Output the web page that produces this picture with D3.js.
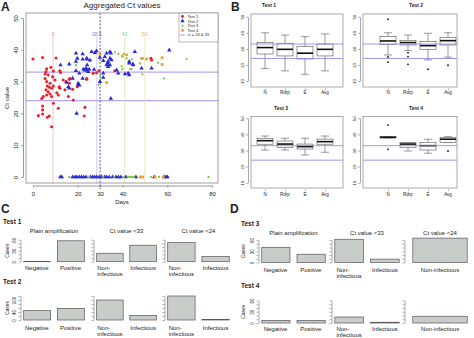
<!DOCTYPE html>
<html>
<head>
<meta charset="utf-8">
<script src="https://cdn.jsdelivr.net/npm/d3@7"></script>
<style>
  body { margin: 0; background: #fff; }
  svg { display: block; font-family: "Liberation Sans", Arial, sans-serif; }
</style>
</head>
<body>
<svg id="fig" width="474" height="338"></svg>
<script>
// ---------- data: panel A (day, Ct) ----------
var test1Pts = [[0,37.1],[4.3,37.6],[10.3,37.4],[8,34.5],[6.1,34],[5.8,33.1],[9.1,33.3],[12,33.4],[12.3,32.9],
  [5.4,32.4],[6.8,32.1],[5.4,31],[8.8,31.5],[9.8,30.5],[13.5,30.5],[16.5,31],[6.1,30],[7.6,29.5],[6.4,28.6],
  [7.3,28.2],[8.3,27.9],[9.1,28.6],[5.8,27.4],[6.8,26.8],[7.6,26.1],[6.1,25.8],[8.3,25.3],[4.6,25.3],[3.9,24.7],
  [10.6,26.5],[12,27.9],[14.3,27.4],[11.3,25.8],[15.8,25.3],[16.2,29.5],[18,24.2],[9.1,23.2],[11.3,21.6],
  [4.3,22.3],[4.3,21.1],[2.4,19.3],[4.3,19.8],[6.4,18.8],[7.3,19.2],[8.3,15.8],[23.2,21.9],[22.9,19.2],
  [24,30.7],[28.4,32.8],[29.5,33.4],[36.6,33.4],[52.7,37.3],[53,36.8],[19.8,28.4],[16.2,30.7],[14.7,30],
  [11.7,28.4],[17.7,27.6],[26.9,32.6],[24,31]];
var test2Pts = [[12.3,35.2],[16.2,35.5],[19.2,38.9],[19.8,37.3],[19.2,36.3],[22.2,38.7],[22.2,37],[24.2,37],
  [26.2,39.4],[27.7,39.1],[28.4,39.6],[24.2,35.2],[23.7,34.2],[24.2,33.6],[25.1,33.9],[22.5,33.9],[19.2,33.4],
  [17.7,31],[15.8,28.4],[15,29.7],[20.2,29.5],[20.2,29],[22.2,31],[19.5,20],[29.9,37.6],[31.4,36.6],[32.1,37.8],
  [32.9,38.9],[34.4,39.4],[34.8,38.9],[33.6,36.3],[33.3,35.8],[34.4,35.2],[29.9,30],[31.4,31.3],[34.8,24.7],
  [37.4,33.6],[38.1,32.6],[41.1,32.4],[43,32.1],[43,36.3],[43,35.8],[45.5,39.4],[44.6,35.5],[48.5,34.2],
  [53,34.2],[60.9,39.9],[27.3,33.8],[24,37.3],[25.5,36.7],[23.2,33.6],[24.7,33.1],[34.4,37.3],[35.1,36.8],
  [32.9,35.2],[33.6,34.7],[42.5,32.6],[31.4,32.6],[44.8,35.2],[20.7,32.6],[16.2,27.9],[20.7,28.9]];
var test3Pts = [[19.2,35.2],[36.6,39.2],[38.1,38.7],[40.6,38.7],[41.8,37.3],[44.3,37],[30.4,31],[30.2,32],
  [40,33.9],[44,33.9],[48.9,32.3],[49.2,37.3],[55.9,35.9],[58.6,31],[68.6,37.1],[39.6,34.9],[43.3,33.9],
  [47.8,35.7],[29.2,28.9]];
var test4Pts = [[29.9,38.7],[32.9,29.7],[39.9,38],[41.8,38.4],[48.5,37.3],[50.8,37.1],[57.7,37.5],[57.7,35.4]];
// negatives (Ct = 0) by day
var test2Zero = [12.2,12.9,17.7,18.75,19.6,20.7,21.6,22.6,23.7,25.6,26.6,27.5,28.4,29.6,30.7,32,32.9,34.1,
  35.6,37.1,38.2,39.3,41.5,46,54.2,58.6,59.4,60.1];
var test3Zero = [16.2,25.1,31.4,36.3,40.5,42.3,43,43.8,44.5,45.2,48.2,52.7,56.4,78.4];
var test4Zero = [47.9,49,54.6,58.2];
var medianDays = [9, 28.5, 41, 50];
var medianLabels = ["9", "28.5", "41", "50"];
var splitDay = 30;
var ctCutoffs = [24, 33];
var dayTicks = [0, 20, 30, 40, 60, 80];
var legendLabels = ["Test 1", "Test 2", "Test 3", "Test 4", "ct = 24 & 33"];

// ---------- data: panel B (lower whisker, Q1, median, Q3, upper whisker) ----------
var boxCats = ["N", "Rdrp", "E", "Avg"];
var box1 = [[17.7,26.8,30.8,33.9,40],[16.3,25.6,29.7,33.5,38.6],[14.2,23.7,27.3,31.4,37.6],[16.3,25.6,29.7,33,39.3]];
var box2 = [[26.2,32.8,34.9,37.6,40],[28.9,32.4,33.9,35.1,38.6],[23.1,29.7,32,34.5,39.7],[24.8,32.4,35.1,37.2,40]];
var box3 = [[30.3,33.9,36.1,37.6,39],[30.3,32,34,35.9,37.6],[27.2,30.9,32.4,34,37.6],[28.9,33.9,35.5,37.1,39]];
var box4 = [[37.8,37.8,38.2,38.6,38.6],[29.7,32,34,34.9,34.9],[28.3,30.3,33,35.1,37],[34.9,34.9,37,38.2,38.6]];
var out1 = [[], [], [], []];
var out2 = [[48.4,25,21.7],[27.6,25.2,20.4],[17.3],[19.8]];
var out3 = [[], [], [], []];
var out4 = [[45.8,30.7],[],[],[29.7]];
var boxTicks = [10, 20, 30, 40, 50];

// ---------- data: panels C, D (cases) ----------
var groupTitles = ["Plain amplification", "Ct value <33", "Ct value <24"];
var plainCats = ["Negative", "Positive"];
var ctCats = ["Non-\ninfectious", "Infectious"];
var test1Bars = [[1, 57], [23, 45], [52, 14]];
var test2Bars = [[47, 58], [100, 23], [120, 3]];
var test3Bars = [[40, 22], [62, 9], [65]];
var test4Bars = [[7, 7], [16, 2], [18]];

var svg = d3.select("#fig");
var ink = "#222";

function letter(t, x, y) {
  svg.append("text").attr("x", x).attr("y", y).attr("font-size", 12).attr("font-weight", "bold").attr("fill", ink).text(t);
}

// ================= Panel A =================
var frameA = { l: 26, r: 218, t: 13, b: 183 };
var xA = d3.scaleLinear().domain([0, 80]).range([33, 212]);
var yA = d3.scaleLinear().domain([0, 50]).range([177, 18]);
var gA = svg.append("g");

letter("A", 1, 11);
gA.append("text").attr("x", 122).attr("y", 8).attr("text-anchor", "middle").attr("font-size", 8).attr("fill", ink)
  .text("Aggregated Ct values");

ctCutoffs.forEach(function (c) {
  gA.append("line").attr("x1", frameA.l).attr("x2", frameA.r).attr("y1", yA(c)).attr("y2", yA(c))
    .attr("stroke", "#b9a3f2").attr("stroke-width", 1.2);
});

var medLine = ["#f4b6b6", "#c2c2f2", "#cfe8b0", "#f6dcae"];
var medText = ["#e88a8a", "#7d7de0", "#93cc5a", "#f0b060"];
medianDays.forEach(function (d, i) {
  gA.append("line").attr("x1", xA(d)).attr("x2", xA(d)).attr("y1", 37).attr("y2", frameA.b)
    .attr("stroke", medLine[i]).attr("stroke-width", 0.8);
  gA.append("text").attr("x", xA(d)).attr("y", 36).attr("text-anchor", "middle").attr("font-size", 5)
    .attr("fill", medText[i]).text(medianLabels[i]);
});
gA.append("line").attr("x1", xA(splitDay)).attr("x2", xA(splitDay)).attr("y1", frameA.t).attr("y2", 189)
  .attr("stroke", "#23306e").attr("stroke-width", 0.8).attr("stroke-dasharray", "2,1.5");

var sym = d3.symbol();
function dots(pts, type, size, color) {
  gA.selectAll(null).data(pts).enter().append("path")
    .attr("transform", function (d) { return "translate(" + xA(d[0]) + "," + yA(d[1]) + ")"; })
    .attr("d", sym.type(type).size(size)())
    .attr("fill", color);
}
function zeroPts(days) { return days.map(function (d) { return [d, 0]; }); }
dots(test1Pts, d3.symbolCircle, 7.5, "#e8232b");
dots(test2Pts.concat(zeroPts(test2Zero)), d3.symbolTriangle, 8.5, "#2a2ad6");
dots(test3Pts.concat(zeroPts(test3Zero)), d3.symbolCircle, 4, "#7ac943");
dots(test4Pts.concat(zeroPts(test4Zero)), d3.symbolSquare, 7.5, "#f0a030");

gA.append("rect").attr("x", frameA.l).attr("y", frameA.t).attr("width", frameA.r - frameA.l)
  .attr("height", frameA.b - frameA.t).attr("fill", "none").attr("stroke", "#888").attr("stroke-width", 0.8);

var axA = gA.append("g").attr("transform", "translate(0,185.5)")
  .call(d3.axisBottom(xA).tickValues(dayTicks).tickSize(2).tickSizeOuter(0));
axA.selectAll("text").attr("font-size", 6).attr("fill", ink).attr("dy", "0.9em");
var ayA = gA.append("g").attr("transform", "translate(23,0)")
  .call(d3.axisLeft(yA).tickValues([0, 10, 20, 30, 40, 50]).tickSize(2).tickSizeOuter(0));
ayA.selectAll("text").attr("font-size", 6).attr("fill", ink).attr("text-anchor", "middle")
  .attr("x", 0).attr("dy", 0).attr("transform", "translate(-5,0) rotate(-90)");
[axA, ayA].forEach(function (a) {
  a.selectAll("path,line").attr("stroke", "#555").attr("stroke-width", 0.6);
});
gA.append("text").attr("x", 122).attr("y", 204).attr("text-anchor", "middle").attr("font-size", 6).attr("fill", ink).text("Days");
gA.append("text").attr("transform", "translate(9,98) rotate(-90)").attr("text-anchor", "middle")
  .attr("font-size", 6).attr("fill", ink).text("Ct value");

// legend
var lg = gA.append("g");
lg.append("rect").attr("x", 179).attr("y", 13).attr("width", 39).attr("height", 29)
  .attr("fill", "#fff").attr("stroke", "#888").attr("stroke-width", 0.6);
var legSym = [[d3.symbolCircle, 7, "#e8232b"], [d3.symbolTriangle, 8, "#2a2ad6"],
  [d3.symbolCircle, 4, "#7ac943"], [d3.symbolSquare, 7, "#f0a030"]];
legendLabels.forEach(function (t, i) {
  var yy = 16.5 + i * 4.6;
  if (i < 4) {
    lg.append("path").attr("transform", "translate(182.5," + yy + ")")
      .attr("d", sym.type(legSym[i][0]).size(legSym[i][1])()).attr("fill", legSym[i][2]);
  } else {
    lg.append("line").attr("x1", 180.5).attr("x2", 185).attr("y1", yy).attr("y2", yy)
      .attr("stroke", "#9f86ee").attr("stroke-width", 0.9);
  }
  lg.append("text").attr("x", 187.5).attr("y", yy + 1.4).attr("font-size", 4).attr("fill", ink).text(t);
});

// ================= Panel B =================
letter("B", 231, 11);

function boxPanel(stats, outl, fr, yRange, xRange, title, titleX, titleY, labY) {
  var g = svg.append("g");
  var y = d3.scaleLinear().domain([10, 50]).range(yRange);
  var x = d3.scalePoint().domain(boxCats).range(xRange);
  var w = 16;
  g.append("text").attr("x", titleX).attr("y", titleY).attr("text-anchor", "middle").attr("font-size", 5)
    .attr("font-weight", "bold").attr("fill", ink).text(title);

  stats.forEach(function (s, i) {
    var cx = x(boxCats[i]);
    g.append("line").attr("x1", cx).attr("x2", cx).attr("y1", y(s[0])).attr("y2", y(s[1])).attr("stroke", "#555").attr("stroke-width", 0.6);
    g.append("line").attr("x1", cx).attr("x2", cx).attr("y1", y(s[3])).attr("y2", y(s[4])).attr("stroke", "#555").attr("stroke-width", 0.6);
    [s[0], s[4]].forEach(function (v) {
      g.append("line").attr("x1", cx - w / 4).attr("x2", cx + w / 4).attr("y1", y(v)).attr("y2", y(v))
        .attr("stroke", "#555").attr("stroke-width", 0.6);
    });
    g.append("rect").attr("x", cx - w / 2).attr("y", y(s[3])).attr("width", w)
      .attr("height", Math.max(0.6, y(s[1]) - y(s[3]))).attr("fill", "#fff").attr("stroke", "#555").attr("stroke-width", 0.6);
    g.append("line").attr("x1", cx - w / 2).attr("x2", cx + w / 2).attr("y1", y(s[2])).attr("y2", y(s[2]))
      .attr("stroke", "#111").attr("stroke-width", 1.6);
    g.selectAll(null).data(outl[i]).enter().append("circle")
      .attr("cx", cx).attr("cy", function (d) { return y(d); }).attr("r", 0.9).attr("fill", "#111");
  });

  ctCutoffs.forEach(function (c) {
    g.append("line").attr("x1", fr.l).attr("x2", fr.r).attr("y1", y(c)).attr("y2", y(c))
      .attr("stroke", "#8a7cf0").attr("stroke-width", 0.8);
  });
  g.append("rect").attr("x", fr.l).attr("y", fr.t).attr("width", fr.r - fr.l).attr("height", fr.b - fr.t)
    .attr("fill", "none").attr("stroke", "#888").attr("stroke-width", 0.7);

  var ay = g.append("g").attr("transform", "translate(" + (fr.l - 3) + ",0)")
    .call(d3.axisLeft(y).tickValues(boxTicks).tickSize(2).tickSizeOuter(0));
  ay.selectAll("text").attr("font-size", 4.3).attr("fill", ink).attr("text-anchor", "middle")
    .attr("x", 0).attr("dy", 0).attr("transform", "translate(-4.5,0) rotate(-90)");
  var ax = g.append("g").attr("transform", "translate(0," + (fr.b + 1.5) + ")")
    .call(d3.axisBottom(x).tickSize(1.5).tickSizeOuter(0));
  ax.selectAll("text").remove();
  ax.select(".domain").remove();
  boxCats.forEach(function (c) {
    g.append("text").attr("x", x(c)).attr("y", labY).attr("text-anchor", "middle").attr("font-size", 4.5)
      .attr("fill", ink).text(c);
  });
  [ax, ay].forEach(function (a) {
    a.selectAll("path,line").attr("stroke", "#555").attr("stroke-width", 0.5);
  });
}

boxPanel(box1, out1, { l: 251, r: 343, t: 14, b: 87 }, [81, 16.7], [265, 325], "Test 1", 269, 6.5, 94);
boxPanel(box2, out2, { l: 363, r: 457, t: 14, b: 87 }, [81, 16.7], [388, 448], "Test 2", 416, 6.5, 94);
boxPanel(box3, out3, { l: 251, r: 343, t: 116.5, b: 188 }, [182.7, 118.3], [265, 325], "Test 3", 281, 109.5, 196);
boxPanel(box4, out4, { l: 363, r: 457, t: 116.5, b: 188 }, [182.7, 118.3], [388, 448], "Test 4", 416, 109.5, 196);

// ================= Panels C and D =================
letter("C", 1, 213);
letter("D", 230, 213);

function barRow(vals, catSets, cols, o) {
  var g = svg.append("g");
  var y = d3.scaleLinear().domain([0, o.max]).range([o.base, o.base - o.h]);
  g.append("text").attr("x", o.nameX).attr("y", o.nameY).attr("font-size", 6.5).attr("font-weight", "bold")
    .attr("fill", ink).text(o.name);
  g.append("text").attr("transform", "translate(" + o.casesX + "," + (o.base - o.h / 2) + ") rotate(-90)")
    .attr("text-anchor", "middle").attr("font-size", 5).attr("fill", ink).text("Cases");

  vals.forEach(function (v, i) {
    var cats = catSets[i];
    var x = d3.scaleBand().domain(cats).range(cols[i])
      .paddingInner(0.2).paddingOuter(cats.length > 1 ? 0.05 : 0.01);
    if (o.titles) {
      g.append("text").attr("x", (cols[i][0] + cols[i][1]) / 2).attr("y", o.titleY).attr("text-anchor", "middle")
        .attr("font-size", 6).attr("fill", ink).text(groupTitles[i]);
    }
    var ax = d3.axisLeft(y).tickValues(d3.range(0, o.max + 1, o.step)).tickSize(2).tickSizeOuter(0)
      .tickFormat(function (d) { return i === 0 && o.labels.indexOf(d) >= 0 ? d : ""; });
    var ag = g.append("g").attr("transform", "translate(" + (cols[i][0] - 1.5) + ",0)").call(ax);
    ag.selectAll("path,line").attr("stroke", "#555").attr("stroke-width", 0.5);
    ag.selectAll("text").attr("font-size", 4.5).attr("fill", ink).attr("text-anchor", "middle")
      .attr("x", 0).attr("dy", 0).attr("transform", "translate(-4.5,0) rotate(-90)");

    g.selectAll(null).data(v).enter().append("rect")
      .attr("x", function (d, j) { return x(cats[j]); })
      .attr("y", function (d) { return y(d); })
      .attr("width", x.bandwidth())
      .attr("height", function (d) { return o.base - y(d); })
      .attr("fill", "#c8cdca").attr("stroke", "#555").attr("stroke-width", 0.7);

    cats.forEach(function (c) {
      var lines = c.split("\n");
      var t = g.append("text").attr("y", o.labY).attr("font-size", 6).attr("fill", ink);
      lines.forEach(function (ln, k) {
        t.append("tspan").attr("x", 0).attr("dy", k === 0 ? 0 : 6).text(ln);
      });
      var wd = t.node().getBBox().width;
      t.selectAll("tspan").attr("x", x(c) + x.bandwidth() / 2 - wd / 2);
    });
  });
}

var colsC = [[22, 86], [95, 158], [166, 231]];
var colsD = [[260, 327], [333, 401], [406, 474]];
var catsC = [plainCats, ctCats, ctCats];
var catsD = [plainCats, ctCats, ["Non-infectious"]];

barRow(test1Bars, catsC, colsC, { name: "Test 1", nameX: 3, nameY: 224, titles: true, titleY: 233,
  base: 261.7, h: 22, max: 60, step: 10, labels: [0, 30, 60], labY: 269.5, casesX: 9 });
barRow(test2Bars, catsC, colsC, { name: "Test 2", nameX: 3, nameY: 284, titles: false,
  base: 320, h: 24, max: 120, step: 20, labels: [0, 40, 100], labY: 330, casesX: 9 });
barRow(test3Bars, catsD, colsD, { name: "Test 3", nameX: 241, nameY: 226, titles: true, titleY: 235,
  base: 262.5, h: 22.5, max: 60, step: 10, labels: [0, 30, 60], labY: 271.5, casesX: 245 });
barRow(test4Bars, catsD, colsD, { name: "Test 4", nameX: 241, nameY: 288, titles: false,
  base: 323, h: 22.5, max: 60, step: 10, labels: [0, 30, 60], labY: 330.5, casesX: 245 });
</script>
</body>
</html>
